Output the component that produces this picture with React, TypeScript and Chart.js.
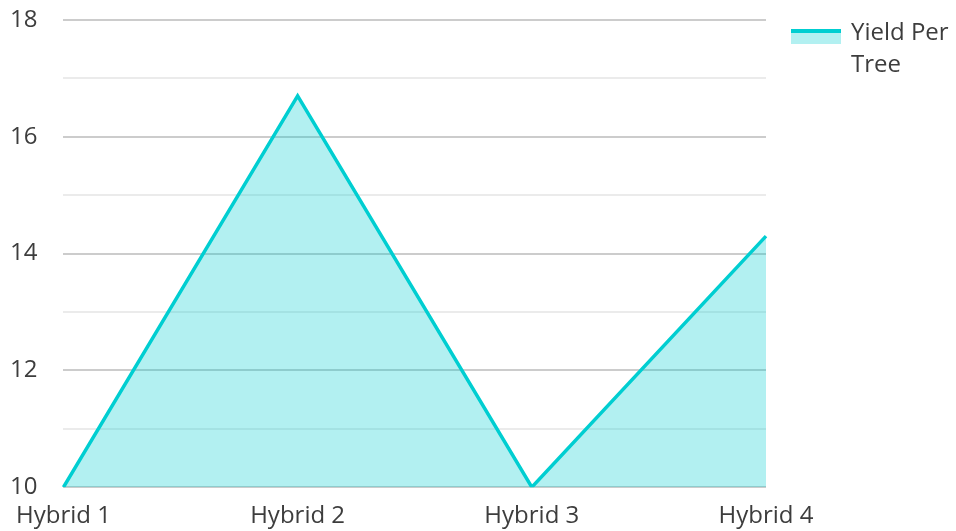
import React, { useEffect, useRef } from "react";
import { Chart, registerables } from "chart.js";

Chart.register(...registerables);

const categories = ["Hybrid 1", "Hybrid 2", "Hybrid 3", "Hybrid 4"];
const yieldPerTree = [10, 16.7, 10, 14.3];
const seriesLabel = ["Yield Per", "Tree"];
const yMin = 10;
const yMax = 18;

const LINE = "#00CED1";
const FILL = "rgba(0,206,209,0.3)";
const TEXT = "#3d3d3d";
const FONT = "'Open Sans', sans-serif";

const legendPlugin = {
  id: "customLegend",
  afterDraw(chart: any) {
    const ctx = chart.ctx;
    const x0 = chart.chartArea.right + 25;
    ctx.save();
    ctx.fillStyle = FILL;
    ctx.fillRect(x0, 31, 50, 13);
    ctx.strokeStyle = LINE;
    ctx.lineWidth = 4;
    ctx.beginPath();
    ctx.moveTo(x0, 31);
    ctx.lineTo(x0 + 50, 31);
    ctx.stroke();
    ctx.fillStyle = TEXT;
    ctx.font = `24px ${FONT}`;
    ctx.textAlign = "left";
    ctx.textBaseline = "alphabetic";
    seriesLabel.forEach((t, i) => {
      ctx.fillText(t, x0 + 60, 40 + i * 32);
    });
    ctx.restore();
  },
};

export default function App() {
  const ref = useRef<HTMLCanvasElement>(null);
  useEffect(() => {
    if (!ref.current) return;
    const chart = new Chart(ref.current, {
      type: "line",
      data: {
        labels: categories,
        datasets: [
          {
            label: seriesLabel.join(" "),
            data: yieldPerTree,
            borderColor: LINE,
            backgroundColor: FILL,
            borderWidth: 3.5,
            pointRadius: 0,
            tension: 0,
            fill: "start",
          },
        ],
      },
      options: {
        animation: false,
        responsive: true,
        maintainAspectRatio: false,
        layout: { padding: { left: 10, top: 20, right: 190, bottom: 0 } },
        plugins: {
          legend: { display: false },
          tooltip: { enabled: false },
        },
        scales: {
          x: {
            grid: {
              display: true,
              drawOnChartArea: false,
              drawTicks: true,
              tickLength: 15,
              color: "transparent",
              tickColor: "transparent",
            },
            border: { display: false },
            ticks: {
              color: TEXT,
              padding: 0,
              maxRotation: 0,
              font: { family: FONT, size: 24, lineHeight: 1.2 },
            },
          },
          y: {
            min: yMin,
            max: yMax,
            border: { display: false },
            grid: {
              drawTicks: true,
              tickLength: 26,
              tickColor: "transparent",
              color: (c: any) =>
                c.tick && Math.round(c.tick.value) % 2 === 0 ? "#cccccc" : "#ebebeb",
              lineWidth: 2,
            },
            ticks: {
              stepSize: 1,
              color: TEXT,
              padding: 0,
              font: { family: FONT, size: 24, lineHeight: 1.2 },
              callback: (v: any) => (Math.round(Number(v)) % 2 === 0 ? String(v) : ""),
            },
          },
        },
      },
      plugins: [legendPlugin],
    });
    return () => chart.destroy();
  }, []);
  return (
    <div style={{ position: "fixed", left: 0, top: 0, width: 956, height: 531 }}>
      <canvas ref={ref} />
    </div>
  );
}
